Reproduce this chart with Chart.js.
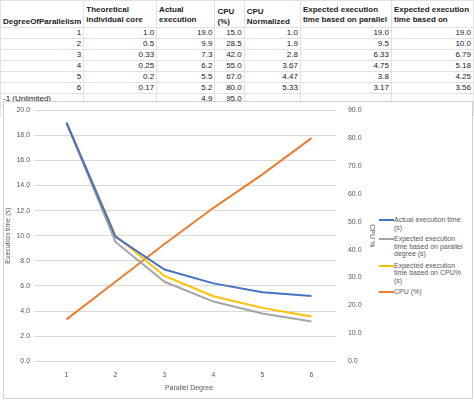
<!DOCTYPE html><html><head><meta charset="utf-8">
<script src="https://cdn.jsdelivr.net/npm/chart.js@4"></script>
<style>
body{margin:0;width:474px;height:401px;background:#fff;font-family:"Liberation Sans Narrow","Liberation Sans",Arial,sans-serif;overflow:hidden;position:relative}
table{border-collapse:collapse;position:absolute;left:0;top:0;font-size:8px;color:#222;table-layout:fixed}
td{border:1px solid #e2e2e2;padding:0 2px;height:10px;line-height:10px;text-align:right;white-space:nowrap;overflow:hidden}
tr.h td{font-weight:bold;text-align:left;height:26px;vertical-align:bottom;white-space:normal;line-height:10px}
tr.h td div{max-height:22px;overflow:hidden}
#box{position:absolute;left:3px;top:101px;width:468px;height:296px;border:1px solid #d0d0d0;background:#fff}
#wrap{position:absolute;left:0;top:0;width:372px;height:296px}
#leg{position:absolute;left:375px;top:114px;font-size:7px;color:#595959;line-height:7.5px;font-family:"Liberation Sans",Arial,sans-serif}
.li{display:flex;align-items:flex-start;margin-bottom:4px}
.sw{width:15px;height:2px;margin-top:3px;flex:none}
</style></head><body>
<table>
<colgroup><col style="width:70px"><col style="width:75px"><col style="width:60px"><col style="width:30px"><col style="width:57px"><col style="width:96px"><col style="width:86px"></colgroup>
<tbody id="tb"></tbody></table>
<div id="box"><div id="wrap"><canvas id="c"></canvas></div><div id="leg"></div></div>
<script>
const degrees=["1","2","3","4","5","6","-1 (Unlimited)"];
const coreContribution=["1.0","0.5","0.33","0.25","0.2","0.17",""];
const actualTime=[19.0,9.9,7.3,6.2,5.5,5.2,4.9];
const cpuPct=[15.0,28.5,42.0,55.0,67.0,80.0,95.0];
const cpuNorm=["1.0","1.9","2.8","3.67","4.47","5.33",""];
const expParallel=[19.0,9.5,6.33,4.75,3.8,3.17];
const expCpu=[19.0,10.0,6.79,5.18,4.25,3.56];
const headers=["DegreeOfParallelism","Theoretical individual core contribution","Actual execution time (s)","CPU (%)","CPU Normalized","Expected execution time based on parallel degree (s)","Expected execution time based on CPU% (s)"];
const labels=["1","2","3","4","5","6"];

const f=v=>v===undefined?'':(v%1===0?v.toFixed(1):String(v));
let h='<tr class="h">'+headers.map(x=>'<td><div>'+x+'</div></td>').join('')+'</tr>';
for(let i=0;i<degrees.length;i++){
 h+='<tr><td style="text-align:'+(i==6?'left':'right')+'">'+degrees[i]+'</td><td>'+coreContribution[i]+'</td><td>'+actualTime[i].toFixed(1)+'</td><td>'+cpuPct[i].toFixed(1)+'</td><td>'+cpuNorm[i]+'</td><td>'+f(expParallel[i])+'</td><td>'+f(expCpu[i])+'</td></tr>';
}
document.getElementById('tb').innerHTML=h+'<tr><td></td><td></td><td></td><td></td><td></td><td></td><td></td></tr>';

const ds=[
 {label:"Actual execution time (s)",data:actualTime.slice(0,6),borderColor:"#4472c4",yAxisID:"y"},
 {label:"Expected execution time based on parallel degree (s)",data:expParallel,borderColor:"#a5a5a5",yAxisID:"y"},
 {label:"Expected execution time based on CPU% (s)",data:expCpu,borderColor:"#ffc000",yAxisID:"y"},
 {label:"CPU (%)",data:cpuPct.slice(0,6),borderColor:"#ed7d31",yAxisID:"y1"}
];
ds.forEach(d=>{d.borderWidth=2;d.pointRadius=0;d.tension=0;d.fill=false;});
document.getElementById('leg').innerHTML=ds.map(d=>'<div class="li"><div class="sw" style="background:'+d.borderColor+'"></div><div style="width:72px">'+d.label+'</div></div>').join('');
const tk={color:"#595959",font:{size:7,family:"Liberation Sans"}};
new Chart(document.getElementById('c'),{type:'line',data:{labels,datasets:ds},
options:{responsive:true,maintainAspectRatio:false,animation:false,
layout:{padding:{top:5,left:0,right:0,bottom:6}},
plugins:{legend:{display:false},tooltip:{enabled:false}},
scales:{
 x:{offset:true,grid:{display:false},border:{display:true,color:"#d9d9d9"},ticks:{...tk,padding:2},title:{display:true,text:"Parallel Degree",color:"#595959",font:{size:7},padding:{top:2,bottom:0}}},
 y:{min:0,max:20,ticks:{...tk,stepSize:2,padding:4,callback:v=>v.toFixed(1)},grid:{color:"#d9d9d9"},border:{display:false},title:{display:true,text:"Execution time (s)",color:"#595959",font:{size:7},padding:{top:0,bottom:0}}},
 y1:{position:'right',min:0,max:90,ticks:{...tk,stepSize:10,padding:4,callback:v=>v.toFixed(1)},grid:{display:false},border:{display:false},title:{display:true,text:"CPU %",color:"#595959",font:{size:7},padding:{top:0,bottom:2}}}
}}});
</script></body></html>
